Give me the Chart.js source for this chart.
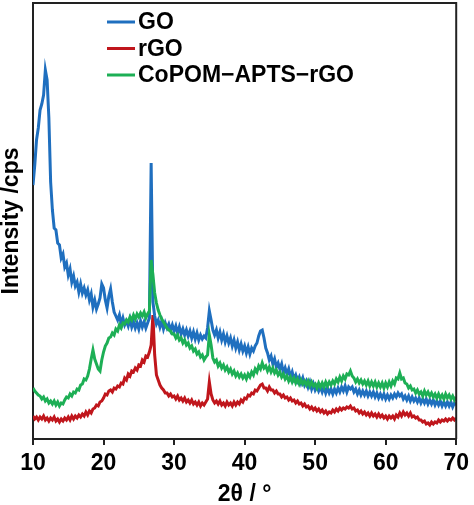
<!DOCTYPE html>
<html>
<head>
<meta charset="utf-8">
<script src="https://cdn.jsdelivr.net/npm/chart.js@4.4.1/dist/chart.umd.min.js"></script>
<style>
  html, body { margin: 0; padding: 0; background: #fff; }
  #wrap { width: 474px; height: 505px; }
</style>
</head>
<body>
<div id="wrap"><canvas id="c" width="474" height="505"></canvas></div>
<script>
const seriesNames = ['GO', 'rGO', 'CoPOM\u2212APTS\u2212rGO'];
const seriesColors = ['#1f6fbf', '#c0161c', '#1daf55'];
const xTicks = [10, 20, 30, 40, 50, 60, 70];

const angles = [
10,10.25,10.5,10.75,11,11.25,11.5,11.75,12,12.25,12.5,12.75,13,13.25,13.5,13.75,14,14.25,14.5,14.75,
15,15.25,15.5,15.75,16,16.25,16.5,16.75,17,17.25,17.5,17.75,18,18.25,18.5,18.75,19,19.25,19.5,19.75,
20,20.25,20.5,20.75,21,21.25,21.5,21.75,22,22.25,22.5,22.75,23,23.25,23.5,23.75,24,24.25,24.5,24.75,
25,25.25,25.5,25.75,26,26.25,26.5,26.75,27,27.25,27.5,27.75,28,28.25,28.5,28.75,29,29.25,29.5,29.75,
30,30.25,30.5,30.75,31,31.25,31.5,31.75,32,32.25,32.5,32.75,33,33.25,33.5,33.75,34,34.25,34.5,34.75,
35,35.25,35.5,35.75,36,36.25,36.5,36.75,37,37.25,37.5,37.75,38,38.25,38.5,38.75,39,39.25,39.5,39.75,
40,40.25,40.5,40.75,41,41.25,41.5,41.75,42,42.25,42.5,42.75,43,43.25,43.5,43.75,44,44.25,44.5,44.75,
45,45.25,45.5,45.75,46,46.25,46.5,46.75,47,47.25,47.5,47.75,48,48.25,48.5,48.75,49,49.25,49.5,49.75,
50,50.25,50.5,50.75,51,51.25,51.5,51.75,52,52.25,52.5,52.75,53,53.25,53.5,53.75,54,54.25,54.5,54.75,
55,55.25,55.5,55.75,56,56.25,56.5,56.75,57,57.25,57.5,57.75,58,58.25,58.5,58.75,59,59.25,59.5,59.75,
60,60.25,60.5,60.75,61,61.25,61.5,61.75,62,62.25,62.5,62.75,63,63.25,63.5,63.75,64,64.25,64.5,64.75,
65,65.25,65.5,65.75,66,66.25,66.5,66.75,67,67.25,67.5,67.75,68,68.25,68.5,68.75,69,69.25,69.5,69.75,
70];

const goValues = [
254,274,299,311,329,335,344,369,359,321,257,229,211,209,196,194,181,185,172,176,
164,170,157,163,153,157,147,155,146,151,144,149,139,145,132,139,130,135,141,155,
151,139,131,143,150,137,127,123,119,124,115,121,114,118,113,120,112,117,111,116,
110,118,112,117,111,116,121,276,137,123,115,119,112,118,110,116,111,115,109,114,
108,113,106,112,105,110,104,109,103,108,101,107,100,106,99,104,100,103,101,111,
128,119,109,104,109,101,107,99,105,97,103,96,101,93,99,91,97,89,95,88,
93,86,92,85,91,88,93,96,103,108,109,101,91,86,79,83,75,80,72,76,
70,75,66,71,65,70,62,67,60,64,58,62,56,61,54,58,52,57,50,55,
49,53,48,52,47,52,46,51,46,50,45,50,46,51,47,52,48,53,47,52,
50,52,47,50,45,49,44,48,44,48,43,47,43,47,42,46,41,45,41,45,
40,44,40,44,41,45,42,46,43,45,40,43,39,43,38,42,38,41,37,41,
36,40,36,40,35,39,35,39,34,38,34,38,33,37,33,37,33,37,32,36,
34];

const rgoValues = [
23,20,22,19,22,20,23,19,21,18,21,19,22,18,20,17,20,18,21,19,
22,19,23,20,23,21,24,22,25,23,27,24,28,26,30,31,34,33,37,38,
41,45,44,48,49,47,51,50,53,52,56,55,61,59,65,63,68,67,71,69,
74,73,79,77,83,82,87,94,124,84,64,59,54,51,49,46,46,43,45,42,
43,40,43,39,41,38,41,37,39,36,39,35,37,34,37,33,36,34,37,40,
57,45,39,36,38,35,38,34,36,33,37,34,36,33,37,34,37,35,39,37,
41,40,44,43,46,45,49,48,51,54,55,51,51,48,52,49,49,46,48,45,
45,42,44,41,42,39,41,38,39,36,38,35,36,33,35,32,33,30,32,29,
31,28,30,27,29,26,28,25,27,26,29,27,30,28,31,29,31,30,32,31,
33,30,31,28,29,26,28,25,27,24,26,23,26,23,25,22,25,22,24,21,
23,20,23,21,23,20,24,22,26,23,27,24,26,23,26,22,23,21,22,19,
19,17,18,15,16,14,17,15,17,16,19,17,19,18,20,18,20,19,21,19,
21];

const copomValues = [
51,48,46,44,43,40,42,38,40,36,38,35,38,34,37,33,36,35,39,42,
41,45,43,47,46,50,49,54,55,60,59,63,70,80,89,80,75,70,68,79,
87,93,96,101,102,106,104,110,108,114,111,116,115,119,117,122,119,124,120,125,
122,126,123,127,121,125,128,179,164,146,136,129,124,120,117,114,111,109,108,105,
105,101,104,99,101,96,99,94,96,91,93,88,90,85,87,82,84,79,82,84,
104,94,81,77,79,73,76,71,74,69,72,67,70,65,68,63,66,62,65,61,
64,60,65,62,67,64,70,67,73,70,76,71,73,68,72,67,71,66,69,64,
67,62,65,60,63,58,62,57,61,56,60,55,59,55,58,54,58,53,57,53,
55,51,56,52,56,52,57,53,57,54,58,55,60,57,62,58,63,60,65,64,
68,63,61,57,60,56,59,55,58,54,58,53,57,53,57,52,56,52,56,51,
56,52,57,53,58,55,61,60,66,60,61,56,55,51,53,49,50,46,49,45,
47,43,48,44,47,43,46,42,45,41,45,41,44,40,45,41,44,40,43,39,
42];

const seriesValues = [goValues, rgoValues, copomValues];
const drawOrder = [1, 2, 0];

const FONT = '"Liberation Sans", Arial, sans-serif';
const FONT_SIZE = 23;

const datasets = seriesNames.map((name, i) => ({
  label: name,
  data: angles.map((a, k) => ({ x: a, y: seriesValues[i][k] })),
  borderColor: seriesColors[i],
  backgroundColor: seriesColors[i],
  borderWidth: 3,
  pointRadius: 0,
  tension: 0,
  fill: false,
  order: drawOrder[i]
}));

const framePlugin = {
  id: 'frame',
  afterDatasetsDraw(chart) {
    const { ctx, chartArea: a } = chart;
    ctx.save();
    ctx.strokeStyle = '#222';
    ctx.lineWidth = 2;
    ctx.beginPath();
    ctx.moveTo(a.left, a.top);
    ctx.lineTo(a.right, a.top);
    ctx.lineTo(a.right, a.bottom);
    ctx.stroke();
    ctx.restore();
  }
};

const legendPlugin = {
  id: 'customLegend',
  afterDraw(chart) {
    const { ctx } = chart;
    ctx.save();
    ctx.font = 'bold ' + FONT_SIZE + 'px ' + FONT;
    ctx.textBaseline = 'middle';
    ctx.textAlign = 'left';
    chart.data.datasets.forEach((ds, i) => {
      const y = 22 + i * 26.5;
      ctx.strokeStyle = ds.borderColor;
      ctx.lineWidth = 3;
      ctx.beginPath();
      ctx.moveTo(107, y);
      ctx.lineTo(135, y);
      ctx.stroke();
      ctx.fillStyle = '#000';
      ctx.fillText(ds.label, 138, y + 1);
    });
    ctx.restore();
  }
};

new Chart(document.getElementById('c'), {
  type: 'line',
  data: { datasets },
  options: {
    responsive: false,
    animation: false,
    events: [],
    layout: { autoPadding: false, padding: { top: 3, right: 13, left: 0, bottom: 0 } },
    plugins: { legend: { display: false }, tooltip: { enabled: false } },
    scales: {
      x: {
        type: 'linear',
        min: 10, max: 70,
        afterBuildTicks(scale) { scale.ticks = xTicks.map(v => ({ value: v })); },
        afterFit(scale) { scale.height = 66; },
        ticks: { color: '#000', font: { family: FONT, size: FONT_SIZE, weight: 'bold' }, padding: 5, maxRotation: 0, autoSkip: false },
        grid: { display: true, drawOnChartArea: false, drawTicks: true, tickLength: 6, color: '#222', lineWidth: 2 },
        border: { display: true, color: '#222', width: 2 },
        title: { display: true, text: '2\u03b8 / \u00b0', color: '#000', font: { family: FONT, size: FONT_SIZE, weight: 'bold' }, padding: { top: 0, bottom: -3 } }
      },
      y: {
        min: 0, max: 436,
        afterFit(scale) { scale.width = 33; },
        ticks: { display: false },
        grid: { display: false },
        border: { display: true, color: '#222', width: 2 },
        title: { display: true, text: 'Intensity /cps', color: '#000', font: { family: FONT, size: FONT_SIZE, weight: 'bold' }, padding: { top: -2, bottom: 0 } }
      }
    }
  },
  plugins: [framePlugin, legendPlugin]
});
</script>
</body>
</html>
